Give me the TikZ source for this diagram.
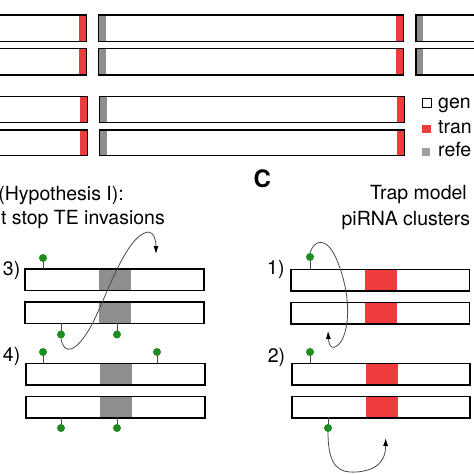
\documentclass[tikz,border=0pt]{standalone}
\usepackage{fontspec}
\setmainfont{TeX Gyre Heros}
\usepackage{xcolor}
\usepackage{tikz}
\usetikzlibrary{arrows.meta}
\definecolor{teRed}{HTML}{EE3B3B}
\definecolor{refGray}{HTML}{8E8E8E}
\definecolor{pinGreen}{HTML}{1E8C1E}
\definecolor{loopGray}{HTML}{4A4A4A}

\begin{document}
\begin{tikzpicture}[x=1pt, y=-1pt,
  bar/.style={draw=black, line width=1.5pt},
  head/.style={circle, fill=pinGreen, inner sep=0pt, minimum size=8pt},
  stem/.style={draw=loopGray, line width=0.9pt},
  jump/.style={draw=loopGray, line width=0.8pt, -{Latex[length=8pt, width=5pt, color=black]}},
  lbl/.style={font=\fontsize{19.5}{23}\selectfont, inner sep=0pt}]
  \useasboundingbox (0,0) rectangle (474,474);
  \clip (0,0) rectangle (474,474);

  % Genome rows
  \foreach \yt/\yb/\dx in {15/41.7/0, 48.3/75/0, 96.7/122.3/1, 130/155.7/1} {
    \fill[white] (-10,\yt) rectangle (86.7+\dx,\yb);
    \fill[teRed] (79+\dx,\yt) rectangle (86.7+\dx,\yb);
    \draw[bar] (-10,\yt) rectangle (86.7+\dx,\yb);
    \fill[refGray] (98.3+\dx,\yt) rectangle (106+\dx,\yb);
    \fill[teRed] (396+\dx,\yt) rectangle (403.7+\dx,\yb);
    \draw[bar] (98.3+\dx,\yt) rectangle (403.7+\dx,\yb);
  }
  \foreach \yt/\yb in {15/41.7, 48.3/75} {
    \fill[refGray] (416,\yt) rectangle (423,\yb);
    \draw[bar] (416,\yt) rectangle (490,\yb);
  }

  % Legend
  \node[draw=black, line width=1pt, minimum size=9pt, inner sep=0pt] (keyGen) at (426.7,103.3) {};
  \node[fill=teRed, minimum size=8.5pt, inner sep=0pt] (keyTe) at (426.7,129.2) {};
  \node[fill=refGray!85, minimum size=7.7pt, inner sep=0pt] (keyRef) at (426.2,152.2) {};
  \node[lbl, anchor=base west] (txtGen) at (438,108.3) {gen};
  \node[lbl, anchor=base west] (txtTe) at (438,133.3) {tran};
  \node[lbl, anchor=base west] (txtRef) at (438,156) {refe};

  % Titles
  \node[lbl, anchor=base east] (hypI) at (124,200) {(Hypothesis I):};
  \node[lbl, anchor=base east] (stopI) at (165,224.5) {t stop TE invasions};
  \node[font=\fontsize{24}{28}\selectfont\bfseries, inner sep=0pt, anchor=base west] (panelC) at (253.5,187) {C};
  \node[lbl, anchor=base east] (trap) at (467,199.5) {Trap model};
  \node[lbl, anchor=base east] (clusters) at (470.3,225) {piRNA clusters};

  % Steps
  \node[lbl, anchor=base east] (step3) at (20.5,275) {3)};
  \node[lbl, anchor=base east] (step4) at (20.5,361.7) {4)};
  \node[lbl, anchor=base east] (step1) at (284.7,274.5) {1)};
  \node[lbl, anchor=base east] (step2) at (285.3,362.3) {2)};

  % Chromosome pairs
  \foreach \xa/\xb/\ya/\sa/\col in {25/204/269/99/refGray, 26/205/363.3/100/refGray,
                                    291/469.3/269.3/365/teRed, 292/470/363.3/366/teRed} {
    \fill[white] (\xa,\ya) rectangle (\xb,\ya+21.7);
    \fill[white] (\xa,\ya+33) rectangle (\xb,\ya+54.5);
    \fill[\col] (\sa,\ya) rectangle (\sa+32,\ya+21.7);
    \fill[\col] (\sa,\ya+33) rectangle (\sa+32,\ya+54.5);
    \draw[bar] (\xa,\ya) rectangle (\xb,\ya+21.7);
    \draw[bar] (\xa,\ya+33) rectangle (\xb,\ya+54.5);
  }

  % Insertions
  \foreach \n/\x/\y/\e in {h3a/43/258/269, h3b/61/334.5/323, h3c/117/334.5/323,
                           h4a/43/352/363, h4b/157/352/363, h4c/61/428/417, h4d/117/428/417,
                           h1a/310/257/269, h2a/310/352/363, h2b/328/428/417} {
    \draw[stem] (\x,\y) -- (\x,\e);
    \node[head] (\n) at (\x,\y) {};
  }

  % Transpositions
  \coordinate (l3m) at (90,328);
  \coordinate (l3top) at (148,232);
  \coordinate (l3tip) at (156,254);
  \draw[jump] (h3b.south) .. controls (64,356) and (76,352) .. (l3m)
    .. controls (104,304) and (125,235) .. (l3top)
    .. controls (154,232) and (156,240) .. (l3tip);
  \coordinate (r1m) at (336,258);
  \coordinate (r1low) at (342,340);
  \coordinate (r1tip) at (328,331);
  \draw[jump] (h1a.north) .. controls (314,240) and (326,236) .. (r1m)
    .. controls (348,285) and (352,320) .. (r1low)
    .. controls (336,350) and (329,350) .. (r1tip);
  \coordinate (r2low) at (356,472);
  \coordinate (r2tip) at (385.7,438);
  \draw[jump] (h2b.south) .. controls (328,468) and (340,473) .. (r2low)
    .. controls (372,471) and (385.5,465) .. (r2tip);
\end{tikzpicture}
\end{document}
